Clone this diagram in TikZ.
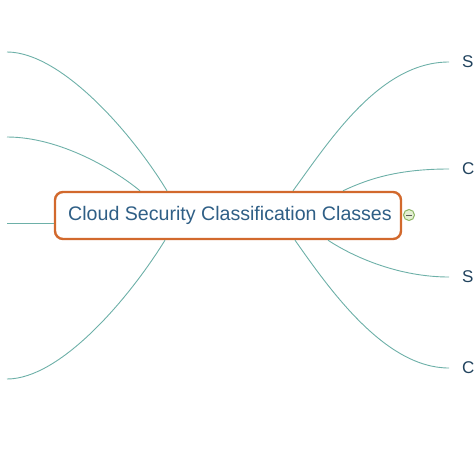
\documentclass[tikz,border=0pt]{standalone}
\usepackage{fontspec}
\setmainfont{Liberation Sans}
\usepackage{xcolor}
\definecolor{rootline}{HTML}{D2692D}
\definecolor{roottext}{HTML}{2F5F86}
\definecolor{branch}{HTML}{6DB0A8}
\definecolor{knobline}{HTML}{8CB565}
\definecolor{knobfill}{HTML}{E4F0D2}
\tikzset{
  rootbox/.style={draw=rootline,line width=2.4pt,rounded corners=8pt,fill=white,
    minimum width=346pt,minimum height=47pt,inner sep=0pt,text=roottext,font=\fontsize{19.6}{22}\selectfont},
  leaf/.style={anchor=west,inner xsep=13pt,inner ysep=0pt,text=roottext!70!black,font=\fontsize{17}{20}\selectfont},
  link/.style={draw=branch,line width=0.9pt}
}

\begin{document}
\begin{tikzpicture}[x=1pt,y=-1pt]
\useasboundingbox (0,0) rectangle (474,474);
\node[rootbox] (root) at (228,215.5) {\hspace*{4pt}\raisebox{-1pt}{Cloud Security Classification Classes}};
\filldraw[draw=knobline,fill=knobfill,line width=1pt] (409,215) circle (5.5pt) coordinate (knob);
\draw[gray!70!black,line width=0.8pt] ([xshift=-3pt]knob) -- ([xshift=3pt]knob);
% right side
\node[leaf] (sa) at (449,62) {S};
\node[leaf] (ca) at (449,169) {C};
\node[leaf] (sb) at (449,277) {S};
\node[leaf] (cb) at (449,368) {C};
\draw[link] ([xshift=65pt]root.north) .. controls (330,140) and (380,62) .. (sa.west);
\draw[link] ([xshift=115pt]root.north) .. controls (370,178) and (400,169) .. (ca.west);
\draw[link] ([xshift=100pt]root.south) .. controls (355,258) and (400,277) .. (sb.west);
\draw[link] ([xshift=67pt]root.south) .. controls (330,290) and (385,368) .. (cb.west);
% left side
\coordinate (la) at (7,52);
\coordinate (lb) at (7,137);
\coordinate (lc) at (7,223);
\coordinate (ld) at (7,379);
\draw[link] ([xshift=-61pt]root.north) .. controls (130,130) and (60,52) .. (la);
\draw[link] ([xshift=-88pt]root.north) .. controls (115,170) and (60,137) .. (lb);
\draw[link] ([yshift=-7.5pt]root.west) -- (lc);
\draw[link] ([xshift=-63pt]root.south) .. controls (128,300) and (60,379) .. (ld);
\end{tikzpicture}
\end{document}
